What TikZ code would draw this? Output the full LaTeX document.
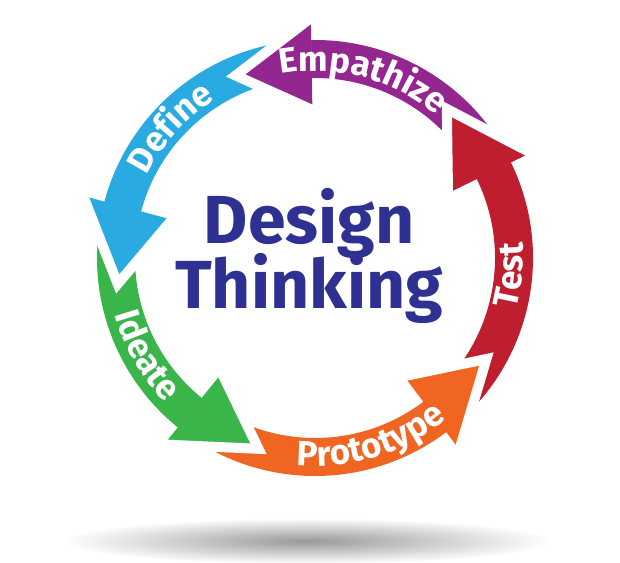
\documentclass[tikz,border=0pt]{standalone}
\usepackage{fontspec}
\setmainfont{Fira Sans}
\newfontfamily\labelfamily{Fira Sans}[LetterSpace=5]
\usetikzlibrary{decorations.text, positioning}

\definecolor{empathizecol}{RGB}{147,39,143}
\definecolor{definecol}{RGB}{41,171,226}
\definecolor{ideatecol}{RGB}{57,181,74}
\definecolor{prototypecol}{RGB}{241,101,34}
\definecolor{testcol}{RGB}{190,30,45}
\definecolor{titlecol}{RGB}{46,49,146}
\newcommand{\stepfont}{\labelfamily\fontsize{17.5}{17.5}\selectfont\bfseries}

\begin{document}
\begin{tikzpicture}[
                                        x=0.5pt, y=0.5pt,
                                        title/.style={font=\fontsize{34}{34}\selectfont\bfseries, text=titlecol, anchor=base, inner sep=0pt},
                                        notchgap/.style={draw=white, line width=5pt},
                                        arclabel/.style={decorate, decoration={text along path, text align=center, text color=white, text={|\stepfont|#1}}}
                                ]

                                \useasboundingbox (-315,-304) rectangle (305,258);

                                % Define the shadow
                                \shade[inner color=black!40, outer color=white] (-8,-283) ellipse [x radius=245, y radius=23];

                                % Define the arrow bodies
                                \fill[empathizecol] (26:180) arc[start angle=26, end angle=92, radius=180] -- (92:218) arc[start angle=92, end angle=26, radius=218] -- cycle;
                                \fill[definecol] (91:180) arc[start angle=91, end angle=166, radius=180] -- (166:218) arc[start angle=166, end angle=91, radius=218] -- cycle;
                                \fill[ideatecol] (165:180) arc[start angle=165, end angle=232, radius=180] -- (232:218) arc[start angle=232, end angle=165, radius=218] -- cycle;
                                \fill[prototypecol] (231:180) arc[start angle=231, end angle=308, radius=180] -- (308:218) arc[start angle=308, end angle=231, radius=218] -- cycle;
                                \fill[testcol] (307:180) arc[start angle=307, end angle=387, radius=180] -- (387:218) arc[start angle=387, end angle=307, radius=218] -- cycle;

                                % Define the arrow heads
                                \fill[empathizecol] (91:148) -- (113.5:199) -- (91:240) -- cycle;
                                \draw[notchgap] (91:148) -- (113.5:199) -- (91:240);

                                \fill[definecol] (165:148) -- (187.5:199) -- (165:240) -- cycle;
                                \draw[notchgap] (165:148) -- (187.5:199) -- (165:240);

                                \fill[ideatecol] (231:148) -- (253.5:199) -- (231:240) -- cycle;
                                \draw[notchgap] (231:148) -- (253.5:199) -- (231:240);

                                \fill[prototypecol] (307:148) -- (329.5:199) -- (307:240) -- cycle;
                                \draw[notchgap] (307:148) -- (329.5:199) -- (307:240);

                                \fill[testcol] (26:148) -- (48.5:199) -- (26:240) -- cycle;
                                \draw[notchgap] (26:148) -- (48.5:199) -- (26:240);

                                % Draw the labels
                                \path[arclabel=Empathize] (118:187) arc[start angle=118, end angle=32, radius=187];
                                \path[arclabel=Define] (180:187) arc[start angle=180, end angle=96, radius=187];
                                \path[arclabel=Ideate] (168:208) arc[start angle=168, end angle=252, radius=208];
                                \path[arclabel=Prototype] (245:208) arc[start angle=245, end angle=329, radius=208];
                                \path[arclabel=Test] (313:208) arc[start angle=313, end angle=397, radius=208];

                                % Define the title nodes
                                \node[title] (design) at (-6,15) {Design};
                                \node[title] (thinking) at (-6,-50) {Thinking};
                        \end{tikzpicture}
\end{document}
